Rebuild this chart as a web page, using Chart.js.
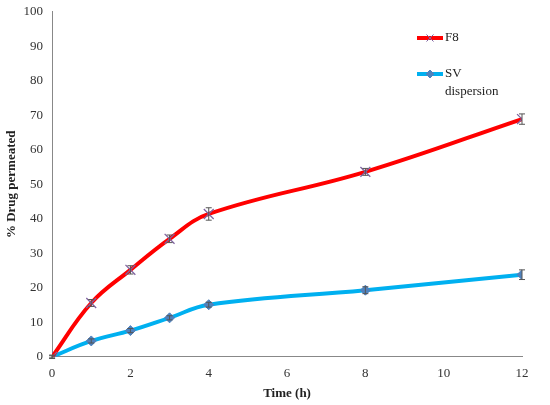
<!DOCTYPE html>
<html>
<head>
<meta charset="utf-8">
<script src="https://cdn.jsdelivr.net/npm/chart.js@4/dist/chart.umd.min.js"></script>
<style>
  html, body { margin: 0; padding: 0; background: #fff; }
  #wrap { width: 550px; height: 405px; }
</style>
</head>
<body>
<div id="wrap"><canvas id="chart"></canvas></div>
<script>
const hours = [0, 1, 2, 3, 4, 8, 12]
const f8 = [0, 15.6, 25.2, 34.2, 41.4, 53.6, 68.9]
const f8Err = [0.5, 1, 1.2, 1.1, 1.8, 1, 1.5]
const svDispersion = [0, 4.6, 7.6, 11.3, 15.1, 19.3, 23.8]
const svErr = [0.3, 0.6, 0.6, 0.6, 0.7, 1, 1.4]
const xTicks = [0, 2, 4, 6, 8, 10, 12]
const yTicks = [0, 10, 20, 30, 40, 50, 60, 70, 80, 90, 100]

const FONT = "'Liberation Serif', 'DejaVu Serif', serif"

// error bars, drawn through the scales
const errorBars = {
  id: "errorBars",
  afterDatasetsDraw(chart) {
    const { ctx, scales: { x, y } } = chart
    const sets = [[f8, f8Err], [svDispersion, svErr]]
    ctx.save()
    ctx.strokeStyle = "#555"
    ctx.lineWidth = 1
    sets.forEach(([vals, errs]) => {
      vals.forEach((v, i) => {
        const px = x.getPixelForValue(hours[i])
        const top = y.getPixelForValue(v + errs[i])
        const bot = y.getPixelForValue(v - errs[i])
        ctx.beginPath()
        ctx.moveTo(px, top); ctx.lineTo(px, bot)
        ctx.moveTo(px - 3, top); ctx.lineTo(px + 3, top)
        ctx.moveTo(px - 3, bot); ctx.lineTo(px + 3, bot)
        ctx.stroke()
      })
    })
    ctx.restore()
  },
}

// legend placed inside the plot, top right
const sideLegend = {
  id: "sideLegend",
  afterDraw(chart) {
    const { ctx } = chart
    const items = [
      { label: ["F8"], color: "#ff0000", y: 38, style: "crossRot", mColor: "#8064a2", r: 5 },
      { label: ["SV", "dispersion"], color: "#00b0f0", y: 74, style: "rectRot", mColor: "#4f81bd", r: 4 },
    ]
    ctx.save()
    items.forEach((it) => {
      ctx.strokeStyle = it.color
      ctx.lineWidth = 4
      ctx.beginPath()
      ctx.moveTo(417, it.y); ctx.lineTo(443, it.y)
      ctx.stroke()
      ctx.lineWidth = 1
      ctx.fillStyle = it.mColor
      ctx.strokeStyle = it.mColor
      Chart.helpers.drawPoint(ctx, { pointStyle: it.style, radius: it.r, borderWidth: 1 }, 430, it.y)
      ctx.fillStyle = "#222"
      ctx.font = `13px ${FONT}`
      ctx.textBaseline = "middle"
      it.label.forEach((t, k) => ctx.fillText(t, 445, it.y + k * 18))
    })
    ctx.restore()
  },
}

new Chart(document.getElementById("chart"), {
  type: "line",
  data: {
    datasets: [
      {
        label: "F8",
        data: hours.map((h, i) => ({ x: h, y: f8[i] })),
        borderColor: "#ff0000",
        borderWidth: 4,
        pointStyle: "crossRot",
        pointRadius: 7,
        pointBorderWidth: 1.3,
        pointBorderColor: "#8064a2",
        pointBackgroundColor: "#8064a2",
        tension: 0.4,
      },
      {
        label: "SV dispersion",
        data: hours.map((h, i) => ({ x: h, y: svDispersion[i] })),
        borderColor: "#00b0f0",
        borderWidth: 4,
        pointStyle: "rectRot",
        pointRadius: 5,
        pointBorderWidth: 1,
        pointBorderColor: "#4f81bd",
        pointBackgroundColor: "#4f81bd",
        tension: 0.4,
      },
    ],
  },
  options: {
    responsive: true,
    maintainAspectRatio: false,
    animation: false,
    layout: { padding: { top: 6, right: 28, left: 4, bottom: 4 } },
    plugins: { legend: { display: false }, tooltip: { enabled: false } },
    scales: {
      x: {
        type: "linear",
        min: 0,
        max: 12,
        afterBuildTicks: (s) => { s.ticks = xTicks.map((v) => ({ value: v })) },
        grid: { display: false, drawTicks: true, tickLength: 5, color: "#888" },
        border: { color: "#888", width: 1 },
        ticks: { color: "#333", font: { family: FONT, size: 13 }, padding: 4 },
        title: { display: true, text: "Time (h)", color: "#222", font: { family: FONT, size: 13, weight: "bold" }, padding: { top: 0, bottom: 0 } },
      },
      y: {
        min: 0,
        max: 100,
        afterBuildTicks: (s) => { s.ticks = yTicks.map((v) => ({ value: v })) },
        grid: { display: false, drawTicks: true, tickLength: 5, color: "#888" },
        border: { color: "#888", width: 1 },
        ticks: { color: "#333", font: { family: FONT, size: 13 }, padding: 4 },
        title: { display: true, text: "% Drug permeated", color: "#222", font: { family: FONT, size: 13, weight: "bold" }, padding: { top: 0, bottom: 0 } },
      },
    },
  },
  plugins: [errorBars, sideLegend],
})
</script>
</body>
</html>
